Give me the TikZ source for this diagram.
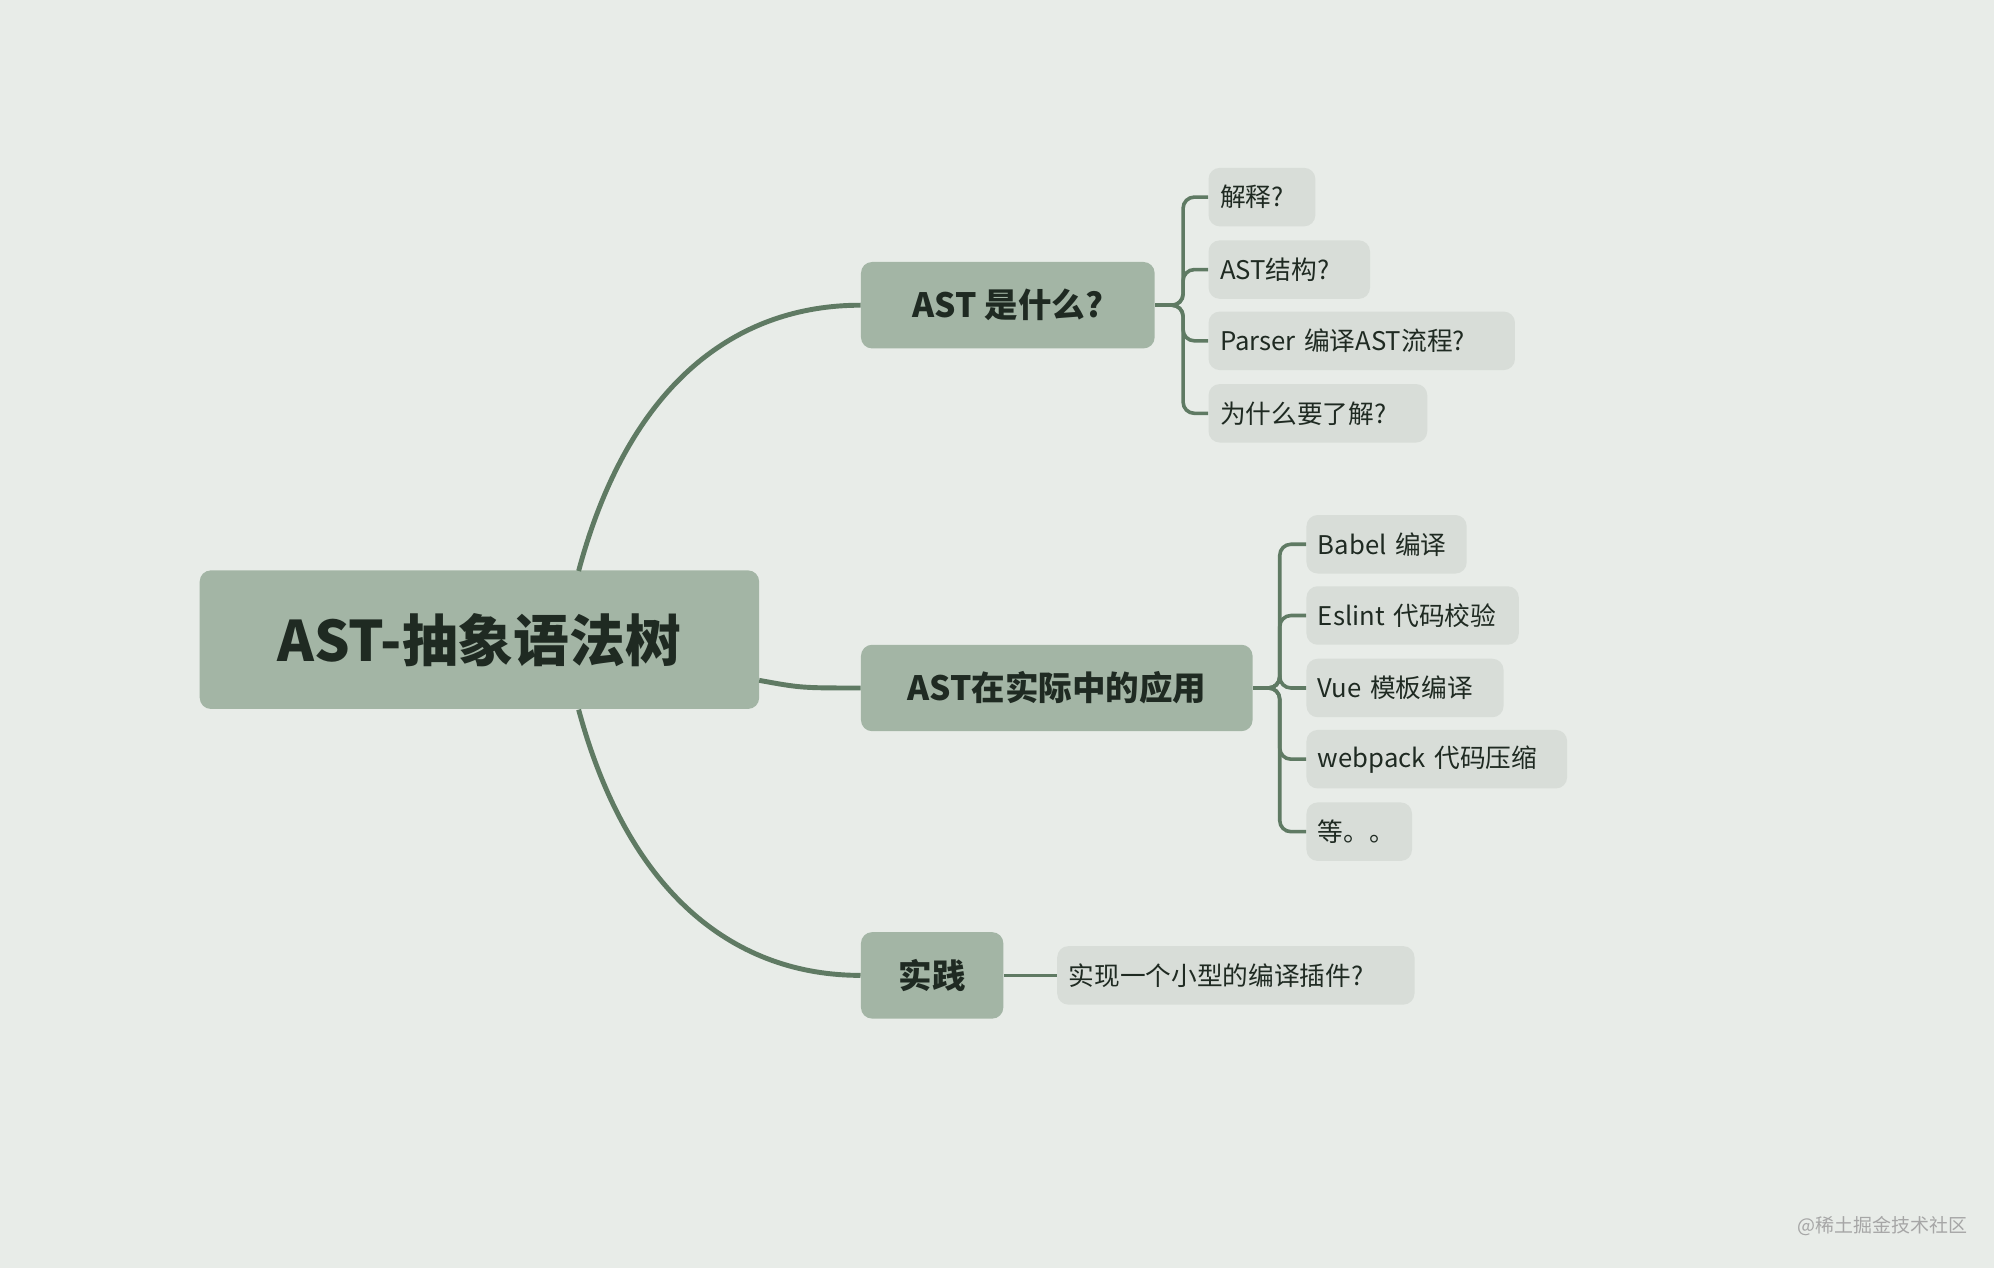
\documentclass[tikz,border=0pt]{standalone}
\usepackage{fontspec}
\setmainfont{Noto Sans CJK SC}
\begin{document}
\begin{tikzpicture}[x=0.02cm,y=-0.02cm,
  line/.style={draw=linec,line width=2.2pt},
  br/.style={draw=linec,line width=1.6pt,rounded corners=5pt},
  mainbox/.style={fill=mainc,rounded corners=5pt,text=textc,inner sep=0pt,minimum height=1.36cm,font=\fontsize{15}{18}\selectfont\bfseries},
  leaf/.style={fill=leafc,rounded corners=5pt,text=textc,inner sep=0pt,minimum height=0.92cm,font=\fontsize{11.5}{14}\selectfont,anchor=west,text width=#1,align=left},
]
\definecolor{bg}{HTML}{E8ECE8}
\definecolor{mainc}{HTML}{A3B5A5}
\definecolor{leafc}{HTML}{D8DDD8}
\definecolor{linec}{HTML}{5F7A63}
\definecolor{textc}{HTML}{1F2A22}
\fill[bg] (0,0) rectangle (1568,997);
\useasboundingbox (0,0) rectangle (1568,997);

\node[mainbox,minimum width=8.8cm,minimum height=2.18cm,font=\fontsize{25}{30}\selectfont\bfseries] (root) at (377,503) {AST-抽象语法树};
\node[mainbox,minimum width=4.62cm] (c1) at (792.5,240) {AST 是什么?};
\node[mainbox,minimum width=6.16cm] (c2) at (831,541) {AST在实际中的应用};
\node[mainbox,minimum width=2.24cm] (c3) at (733,767) {实践};

\coordinate (r1) at (455,449);
\coordinate (r2) at (455,558);
\coordinate (r3) at (597,535);
\draw[line] (r1) .. controls (495,300) and (580,240) .. (c1.west);
\draw[line] (r2) .. controls (495,706) and (580,767) .. (c3.west);
\draw[line] (r3) .. controls (630,541) .. (c2.west);

\foreach \n/\y/\w/\t in {a/155/1.68cm/解释?, b/212/2.54cm/AST结构?, c/268/4.82cm/Parser 编译AST流程?, d/325/3.44cm/为什么要了解?}{
  \node[leaf=\w] (\n) at (950,\y) {\hspace{0.18cm}\t};
  \draw[br] (c1.east) -- ++(22,0) |- (\n.west);
}
\foreach \n/\y/\w/\t in {e/428/2.52cm/Babel 编译, f/484/3.34cm/Eslint 代码校验, g/541/3.10cm/Vue 模板编译, h/597/4.10cm/webpack 代码压缩, i/654/1.66cm/等。。}{
  \node[leaf=\w] (\n) at (1027,\y) {\hspace{0.18cm}\t};
  \draw[br] (c2.east) -- ++(21,0) |- (\n.west);
}
\node[leaf=5.62cm] (j) at (831,767) {\hspace{0.18cm}实现一个小型的编译插件?};
\draw[br] (c3.east) -- (j.west);

\node[text=gray!70,font=\fontsize{8.5}{10}\selectfont] (wm) at (1480,964) {@稀土掘金技术社区};
\end{tikzpicture}
\end{document}
